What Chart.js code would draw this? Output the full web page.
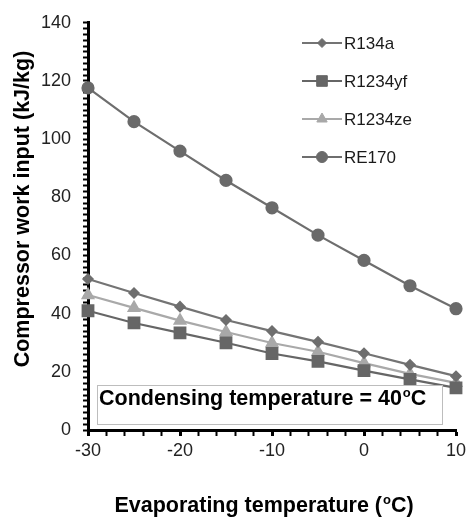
<!DOCTYPE html>
<html>
<head>
<meta charset="utf-8">
<script src="https://cdn.jsdelivr.net/npm/chart.js@4.4.1/dist/chart.umd.min.js"></script>
<style>
  html, body { margin: 0; padding: 0; background: #fff; }
  #wrap { width: 474px; height: 522px; }
</style>
</head>
<body>
<div id="wrap"><canvas id="myChart" width="474" height="522"></canvas></div>
<script>
const ctx = document.getElementById("myChart");

// evaporating temperature (oC)
const temps = [-30, -25, -20, -15, -10, -5, 0, 5, 10];

// compressor work input (kJ/kg)
const r134a   = [51.9, 47.1, 42.4, 37.8, 34.0, 30.3, 26.4, 22.4, 18.5];
const r1234yf = [41.0, 36.8, 33.4, 30.0, 26.3, 23.6, 20.4, 17.4, 14.5];
const r1234ze = [46.4, 42.0, 37.6, 33.7, 29.9, 26.9, 23.0, 19.3, 16.2];
const re170   = [117.6, 106.0, 95.9, 85.8, 76.4, 67.0, 58.3, 49.6, 41.7];

const seriesNames = ["R134a", "R1234yf", "R1234ze", "RE170"];
const yTicks = [0, 20, 40, 60, 80, 100, 120, 140];
const xTicks = [-30, -20, -10, 0, 10];

const FAM = "'Liberation Sans', Arial, sans-serif";

function pts(vals) {
  return temps.map((t, i) => ({ x: t, y: vals[i] }));
}

function makeSet(label, vals, line, fill, style, radius) {
  return {
    label: label,
    data: pts(vals),
    borderColor: line,
    backgroundColor: fill,
    pointBackgroundColor: fill,
    pointBorderColor: fill,
    pointStyle: style,
    pointRadius: radius,
    pointHoverRadius: radius,
    borderWidth: 2.2,
    tension: 0,
    clip: false
  };
}

// text with a small raised "o" before the final part (oC)
function supText(c, parts, x, y, big, small, rise) {
  c.font = "bold " + big + "px " + FAM;
  c.fillText(parts[0], x, y);
  x += c.measureText(parts[0]).width + 1;
  c.font = "bold " + small + "px " + FAM;
  c.fillText("o", x, y - rise);
  x += c.measureText("o").width;
  c.font = "bold " + big + "px " + FAM;
  c.fillText(parts[1], x, y);
}

function supWidth(c, parts, big, small) {
  c.font = "bold " + big + "px " + FAM;
  let w = c.measureText(parts[0]).width + c.measureText(parts[1]).width + 1;
  c.font = "bold " + small + "px " + FAM;
  return w + c.measureText("o").width;
}

// draws the in-plot legend, the note box and the axis titles
const extras = {
  id: "extras",
  afterDatasetsDraw(chart) {
    const c = chart.ctx;
    c.save();

    // legend
    chart.data.datasets.forEach((ds, i) => {
      const y = 43 + i * 38;
      c.strokeStyle = ds.borderColor;
      c.lineWidth = 2.2;
      c.beginPath();
      c.moveTo(302, y);
      c.lineTo(342, y);
      c.stroke();
      c.fillStyle = ds.pointBackgroundColor;
      c.strokeStyle = ds.pointBorderColor;
      c.lineWidth = 1;
      Chart.helpers.drawPoint(c, { pointStyle: ds.pointStyle, radius: ds.pointRadius, borderWidth: 1, rotation: 0 }, 322, y);
      c.fillStyle = "#1a1a1a";
      c.font = "17px " + FAM;
      c.textAlign = "left";
      c.textBaseline = "middle";
      c.fillText(ds.label, 344, y + 1);
    });

    // condensing temperature box
    c.fillStyle = "#fff";
    c.fillRect(97.5, 385.5, 345, 39);
    c.strokeStyle = "#bdbdbd";
    c.lineWidth = 1;
    c.strokeRect(97.5, 385.5, 345, 39);
    c.fillStyle = "#000";
    c.textBaseline = "alphabetic";
    c.textAlign = "left";
    supText(c, ["Condensing temperature = 40", "C"], 99, 405, 21.5, 13, 8);

    // x axis title
    const xp = ["Evaporating temperature (", "C)"];
    const w = supWidth(c, xp, 21.5, 13);
    supText(c, xp, 264 - w / 2, 512, 21.5, 13, 8);

    // y axis title
    c.translate(23, 209);
    c.rotate(-Math.PI / 2);
    c.textAlign = "center";
    c.textBaseline = "middle";
    c.font = "bold 21.5px " + FAM;
    c.fillText("Compressor work input (kJ/kg)", 0, 0);

    c.restore();
  }
};

function createChart() {
  return new Chart(ctx, {
    type: "line",
    data: {
      datasets: [
        makeSet(seriesNames[0], r134a, "#747474", "#6e6e6e", "rectRot", 4.5),
        makeSet(seriesNames[1], r1234yf, "#666666", "#666666", "rect", 7.5),
        makeSet(seriesNames[2], r1234ze, "#a9a9a9", "#a8a8a8", "triangle", 6),
        makeSet(seriesNames[3], re170, "#6e6e6e", "#6a6a6a", "circle", 5.5)
      ]
    },
    options: {
      responsive: false,
      animation: false,
      layout: { padding: { top: 14, right: 18, left: 0, bottom: 0 } },
      plugins: {
        legend: { display: false },
        tooltip: { enabled: false }
      },
      scales: {
        x: {
          type: "linear",
          min: xTicks[0],
          max: xTicks[xTicks.length - 1],
          afterFit(scale) { scale.height = 92; },
          afterBuildTicks(scale) {
            const t = [];
            for (let v = xTicks[0]; v <= xTicks[xTicks.length - 1]; v += 2) t.push({ value: v });
            scale.ticks = t;
          },
          ticks: {
            autoSkip: false,
            maxRotation: 0,
            padding: 4,
            color: "#222",
            font: { family: FAM, size: 18 },
            callback: (v) => (xTicks.includes(v) ? v : "")
          },
          grid: {
            drawOnChartArea: false,
            drawTicks: true,
            tickLength: 6,
            tickColor: "#000",
            tickWidth: (c) => (c.tick && xTicks.includes(c.tick.value) ? 3 : 2)
          },
          border: { display: true, color: "#000", width: 3 }
        },
        y: {
          min: yTicks[0],
          max: yTicks[yTicks.length - 1],
          afterFit(scale) { scale.width = 88; },
          afterBuildTicks(scale) {
            const t = [];
            for (let v = yTicks[0]; v <= yTicks[yTicks.length - 1]; v += 2) t.push({ value: v });
            scale.ticks = t;
          },
          ticks: {
            autoSkip: false,
            padding: 12,
            color: "#222",
            font: { family: FAM, size: 18 },
            callback: (v) => (yTicks.includes(v) ? v : "")
          },
          grid: {
            drawOnChartArea: false,
            drawTicks: true,
            tickLength: 5,
            tickColor: "#000",
            tickWidth: 2
          },
          border: { display: true, color: "#000", width: 3 }
        }
      }
    },
    plugins: [extras]
  });
}

let x = createChart();
</script>
</body>
</html>
